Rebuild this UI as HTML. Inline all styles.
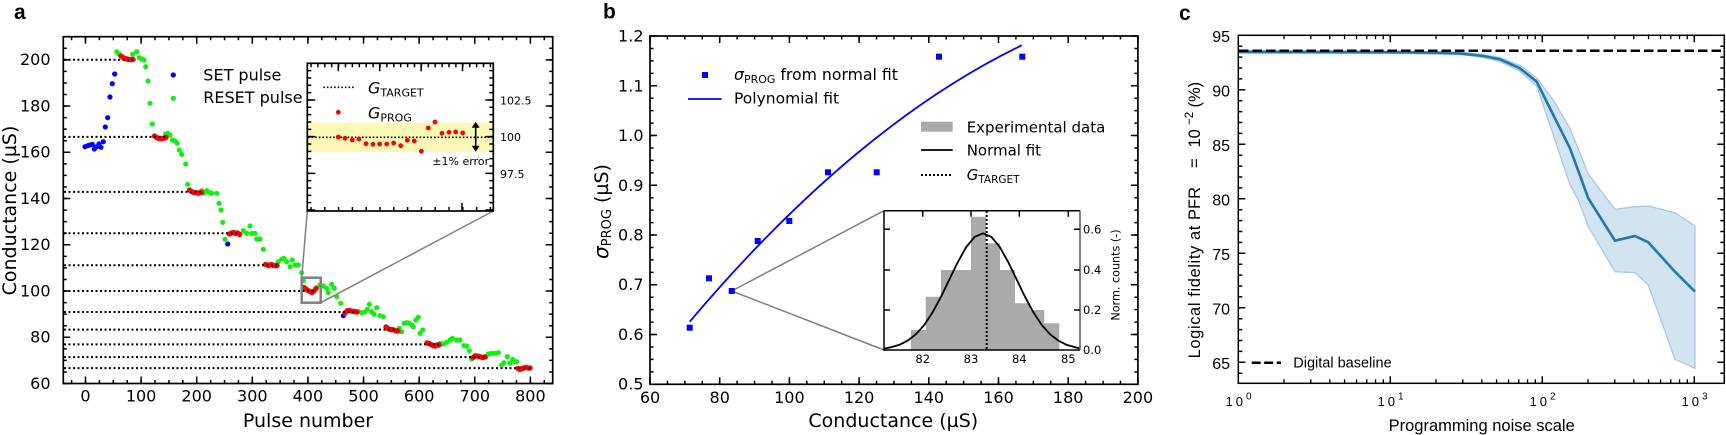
<!DOCTYPE html>
<html><head><meta charset="utf-8"><style>
html,body{margin:0;padding:0;background:#fff;}
svg{display:block;}
.dv{font-family:"DejaVu Sans","Liberation Sans",sans-serif;}
.ls{font-family:"Liberation Sans",sans-serif;}
</style></head><body>
<svg width="1726" height="435" viewBox="0 0 1726 435" xmlns="http://www.w3.org/2000/svg">
<rect width="1726" height="435" fill="#fff"/>

<!-- ================= PANEL A ================= -->
<text class="ls" x="14" y="19" font-size="21" font-weight="bold">a</text>

<!-- data points -->
<path fill="none" stroke="#10f010" stroke-width="5.2" stroke-linecap="round" d="M116.7 51.7h0M119 54h0M132.7 54.3h0M136.7 51.7h0M139.3 57.7h0M141.7 59h0M144 60h0M145.7 66.7h0M148 81h0M150 103.3h0M152.3 124h0M165.7 134h0M167.7 133.3h0M170 135h0M172.3 140h0M175 141h0M177.3 143.3h0M179.3 150h0M181.7 154.3h0M185.7 164h0M187.7 184.3h0M201.7 190.7h0M204 193h0M206.7 190.7h0M209 192.3h0M211.7 193.3h0M216.7 193.3h0M219 203.3h0M221 210h0M222.7 222.3h0M225 239.3h0M240 234.3h0M243.3 230.7h0M246.7 233.3h0M250 226h0M251.7 233.3h0M255 233.3h0M256.7 239h0M260 239h0M263.3 249.3h0M278.3 261.7h0M281.7 259.3h0M284 258.3h0M286.7 261.7h0M290 266.7h0M292.3 260h0M295 265h0M298.3 265h0M301.7 272.7h0M303.3 280.7h0M316.7 287.7h0M320 285h0M323.3 286h0M326.7 288.3h0M328.3 292.7h0M331.7 284.3h0M334.3 288.3h0M336.7 296.7h0M340.7 303.3h0M358.3 311.7h0M361.7 312.7h0M365 311.7h0M367.3 309.3h0M369.3 304.3h0M371.7 311.7h0M374 314.3h0M376.7 307.7h0M380 315.7h0M383.3 316.7h0M399.3 328.3h0M401.7 331.7h0M404 323.3h0M406.7 322.7h0M409.3 323.3h0M411.7 325h0M413.3 326.7h0M416 320h0M418.3 317.3h0M420 333.3h0M422.7 330h0M440 343.3h0M443.3 344h0M446.7 342.3h0M450 340h0M452.3 338.3h0M456.7 340h0M460 340h0M464 345.7h0M466.7 346h0M469.3 350.7h0M471.7 359h0M486 356.7h0M488.3 354h0M491.7 353.3h0M495 353.3h0M498.3 352.7h0M501.7 365h0M504 362.7h0M507.3 356.7h0M510 363.3h0M512.7 359.3h0M515 361.7h0M516.7 361.7h0"/>
<path fill="none" stroke="#0000ff" stroke-width="5.2" stroke-linecap="round" d="M85 146.7h0M87.7 145.7h0M90 145h0M92.3 144.3h0M94.3 149h0M96.7 146.7h0M99 144h0M101 147.3h0M103.3 141.7h0M105.3 127h0M107.7 117.7h0M110 97h0M112.3 83.7h0M114.7 74h0M227.7 244h0M343.3 315.7h0"/>
<path fill="none" stroke="#ff0000" stroke-width="5.4" stroke-linecap="round" d="M121 56h0M123 57.5h0M125 58.5h0M127 59h0M129 59.5h0M131 59.5h0M133 59.5h0M154.5 136h0M156.5 137.5h0M158.5 138.5h0M160.5 138.5h0M162.5 138.5h0M164.5 138h0M166 137.5h0M189.5 190h0M191.5 191.5h0M193.5 192.5h0M195.5 192.5h0M197.5 193h0M199.5 193h0M201.5 192.5h0M229.5 234h0M231.5 233h0M233.5 232.5h0M235.5 233.5h0M237.5 233h0M239.5 234.5h0M265.5 264.5h0M267.5 265h0M269.5 265.5h0M271.5 264.5h0M273.5 265.5h0M275.5 265.5h0M277 265.5h0M304 287.5h0M306 289h0M308 290.5h0M310 291.5h0M312 292.5h0M314 291h0M316 288.5h0M345 313h0M347 311h0M349 310.5h0M351 311h0M353 311.5h0M355 311.5h0M357 312h0M386 327h0M388 328.5h0M390 329.5h0M392 329.5h0M394 330h0M396 331h0M398 331h0M427 343h0M429 343.5h0M431 344.5h0M433 345.5h0M435 346h0M437 345h0M439 345h0M473 357.5h0M475 356h0M477 356h0M479 356.5h0M481 357h0M483 357.5h0M485 357h0M518 368.5h0M520 369.5h0M522 368.5h0M524 368h0M526 367.5h0M528 368h0M530 368h0"/>

<!-- target dotted lines -->
<g stroke="#000" stroke-width="2" stroke-dasharray="2 2.5" fill="none">
<line x1="64" y1="59.8" x2="133" y2="59.8"/>
<line x1="64" y1="136.9" x2="166" y2="136.9"/>
<line x1="64" y1="191.9" x2="202" y2="191.9"/>
<line x1="64" y1="233.2" x2="240" y2="233.2"/>
<line x1="64" y1="265.3" x2="277" y2="265.3"/>
<line x1="64" y1="291.0" x2="316" y2="291.0"/>
<line x1="64" y1="312.0" x2="357" y2="312.0"/>
<line x1="64" y1="329.6" x2="398" y2="329.6"/>
<line x1="64" y1="344.4" x2="439" y2="344.4"/>
<line x1="64" y1="357.1" x2="485" y2="357.1"/>
<line x1="64" y1="368.1" x2="530" y2="368.1"/>
</g>

<!-- zoom box and connectors -->
<rect x="301.7" y="277.7" width="19" height="25" fill="none" stroke="#808080" stroke-width="2.5"/>
<line x1="307.3" y1="211" x2="301.7" y2="277.7" stroke="#808080" stroke-width="1.5"/>
<line x1="493.3" y1="211" x2="320.7" y2="302.7" stroke="#808080" stroke-width="1.5"/>

<!-- axes a -->
<g stroke="#000" fill="none">
<rect x="63.3" y="36.7" width="489.4" height="346.8" stroke-width="1.7"/>
<line x1="70.85" y1="381.75" x2="553" y2="381.75" stroke-width="3.5" stroke-dasharray="1.5 12.4025"/>
<line x1="84.75" y1="380" x2="553" y2="380" stroke-width="7" stroke-dasharray="1.5 54.11"/>
<line x1="70.85" y1="38.45" x2="553" y2="38.45" stroke-width="3.5" stroke-dasharray="1.5 12.4025"/>
<line x1="84.75" y1="40.2" x2="553" y2="40.2" stroke-width="7" stroke-dasharray="1.5 54.11"/>
<line x1="65.05" y1="35.95" x2="65.05" y2="385" stroke-width="3.5" stroke-dasharray="1.5 10.06"/>
<line x1="66.8" y1="59.07" x2="66.8" y2="385" stroke-width="7" stroke-dasharray="1.5 44.74"/>
<line x1="550.95" y1="35.95" x2="550.95" y2="385" stroke-width="3.5" stroke-dasharray="1.5 10.06"/>
<line x1="549.2" y1="59.07" x2="549.2" y2="385" stroke-width="7" stroke-dasharray="1.5 44.74"/>
</g>
<g class="dv" font-size="16" fill="#000" text-anchor="end">
<text x="50.5" y="388.8">60</text>
<text x="50.5" y="342.6">80</text>
<text x="50.5" y="296.3">100</text>
<text x="50.5" y="250.1">120</text>
<text x="50.5" y="203.8">140</text>
<text x="50.5" y="157.6">160</text>
<text x="50.5" y="111.4">180</text>
<text x="50.5" y="65.1">200</text>
</g>
<g class="dv" font-size="16" fill="#000" text-anchor="middle">
<text x="85.5" y="401.7">0</text>
<text x="141.1" y="401.7">100</text>
<text x="196.7" y="401.7">200</text>
<text x="252.3" y="401.7">300</text>
<text x="307.9" y="401.7">400</text>
<text x="363.6" y="401.7">500</text>
<text x="419.2" y="401.7">600</text>
<text x="474.8" y="401.7">700</text>
<text x="530.4" y="401.7">800</text>
</g>
<text class="dv" x="308" y="427" font-size="19" text-anchor="middle">Pulse number</text>
<text class="dv" transform="translate(16,210.5) rotate(-90)" font-size="19" text-anchor="middle">Conductance (µS)</text>

<!-- legend a -->
<circle cx="173.3" cy="75" r="2.6" fill="#0000ff"/>
<text class="dv" x="203.3" y="80.5" font-size="16">SET pulse</text>
<circle cx="173.3" cy="98.3" r="2.6" fill="#10f010"/>
<text class="dv" x="203.3" y="103" font-size="16">RESET pulse</text>

<!-- inset a -->
<rect x="307.3" y="63.3" width="186" height="147.7" fill="#fff"/>
<rect x="307.3" y="122.6" width="186" height="29.4" fill="#fcf8b5"/>
<line x1="308" y1="137.3" x2="493" y2="137.3" stroke="#000" stroke-width="1.6" stroke-dasharray="1.6 2"/>
<path fill="none" stroke="#ff0000" stroke-width="4.8" stroke-linecap="round" d="M338.3 137h0M345 138.3h0M352.3 140h0M359 139h0M366 143.7h0M373 144.3h0M379.7 144h0M386.7 144h0M393.7 143h0M400.7 145.7h0M407.3 140.3h0M414.3 141h0M421.3 151.3h0M428.3 128h0M435 122h0M442 133.3h0M449 132.3h0M455.7 132h0M462.7 133h0M338.3 112.3h0"/>
<line x1="323.3" y1="87.3" x2="355" y2="87.3" stroke="#000" stroke-width="1.6" stroke-dasharray="1.6 2"/>
<text class="dv" x="368" y="93.5" font-size="16"><tspan font-style="italic">G</tspan><tspan font-size="11" dy="3">TARGET</tspan></text>
<text class="dv" x="368" y="118.5" font-size="16"><tspan font-style="italic">G</tspan><tspan font-size="11" dy="3">PROG</tspan></text>
<line x1="475.7" y1="126" x2="475.7" y2="147.5" stroke="#000" stroke-width="1.6"/>
<polygon points="475.7,121.7 471.7,127.7 479.7,127.7" fill="#000"/>
<polygon points="475.7,151.7 471.7,145.7 479.7,145.7" fill="#000"/>
<text class="dv" x="432.3" y="165" font-size="11">±1% error</text>
<g stroke="#000" fill="none">
<rect x="307.3" y="63.3" width="186" height="147.7" stroke-width="1.7"/>
<line x1="309.3" y1="62.55" x2="309.3" y2="212" stroke-width="4" stroke-dasharray="1.5 5.835"/>
<line x1="311.3" y1="62.55" x2="311.3" y2="212" stroke-width="8" stroke-dasharray="1.5 35.175"/>
<line x1="491.3" y1="62.55" x2="491.3" y2="212" stroke-width="4" stroke-dasharray="1.5 5.835"/>
<line x1="489.3" y1="62.55" x2="489.3" y2="212" stroke-width="8" stroke-dasharray="1.5 35.175"/>
<line x1="310.25" y1="65.3" x2="493" y2="65.3" stroke-width="4" stroke-dasharray="1.5 5.4"/>
<line x1="337.55" y1="67.3" x2="493" y2="67.3" stroke-width="8" stroke-dasharray="1.5 39.9"/>
<line x1="310.25" y1="209" x2="493" y2="209" stroke-width="4" stroke-dasharray="1.5 12.3"/>
<path d="M462 211v-8" stroke-width="1.5"/>
</g>
<g class="dv" font-size="11" fill="#000">
<text x="500" y="104.5">102.5</text>
<text x="500" y="141.2">100</text>
<text x="500" y="178">97.5</text>
</g>

<!-- ================= PANEL B ================= -->
<text class="ls" x="603" y="18.5" font-size="21" font-weight="bold">b</text>

<!-- connectors -->
<line x1="731.7" y1="291" x2="884" y2="210.7" stroke="#808080" stroke-width="1.5"/>
<line x1="731.7" y1="291" x2="884" y2="350" stroke="#808080" stroke-width="1.5"/>

<!-- polynomial fit -->
<path d="M689.7 321.7 Q855.8 125.4 1021.8 45.3" fill="none" stroke="#0000ff" stroke-width="1.8"/>
<!-- squares -->
<g fill="#0000ff">
<rect x="686.7" y="324.7" width="6" height="6"/>
<rect x="706" y="275.3" width="6" height="6"/>
<rect x="728.7" y="288" width="6" height="6"/>
<rect x="754.7" y="238" width="6" height="6"/>
<rect x="786.3" y="218" width="6" height="6"/>
<rect x="825" y="169.3" width="6" height="6"/>
<rect x="873.7" y="169.3" width="6" height="6"/>
<rect x="936" y="53.7" width="6" height="6"/>
<rect x="1019.3" y="53.7" width="6" height="6"/>
</g>

<!-- axes b -->
<g stroke="#000" fill="none">
<rect x="650" y="36" width="487.9" height="348.3" stroke-width="1.7"/>
<line x1="649.25" y1="382.55" x2="1139" y2="382.55" stroke-width="3.5" stroke-dasharray="1.5 15.925"/>
<line x1="649.25" y1="380.8" x2="1139" y2="380.8" stroke-width="7" stroke-dasharray="1.5 68.2"/>
<line x1="649.25" y1="37.75" x2="1139" y2="37.75" stroke-width="3.5" stroke-dasharray="1.5 15.925"/>
<line x1="649.25" y1="39.5" x2="1139" y2="39.5" stroke-width="7" stroke-dasharray="1.5 68.2"/>
<line x1="651.75" y1="35.25" x2="651.75" y2="385.5" stroke-width="3.5" stroke-dasharray="1.5 10.939"/>
<line x1="653.5" y1="35.25" x2="653.5" y2="385.5" stroke-width="7" stroke-dasharray="1.5 48.257"/>
<line x1="1136.15" y1="35.25" x2="1136.15" y2="385.5" stroke-width="3.5" stroke-dasharray="1.5 10.939"/>
<line x1="1134.4" y1="35.25" x2="1134.4" y2="385.5" stroke-width="7" stroke-dasharray="1.5 48.257"/>
</g>
<g class="dv" font-size="16" fill="#000" text-anchor="end">
<text x="643.5" y="389.6">0.5</text>
<text x="643.5" y="339.9">0.6</text>
<text x="643.5" y="290.2">0.7</text>
<text x="643.5" y="240.5">0.8</text>
<text x="643.5" y="190.8">0.9</text>
<text x="643.5" y="141.1">1.0</text>
<text x="643.5" y="91.4">1.1</text>
<text x="643.5" y="41.7">1.2</text>
</g>
<g class="dv" font-size="16" fill="#000" text-anchor="middle">
<text x="650" y="403">60</text>
<text x="719.7" y="403">80</text>
<text x="789.4" y="403">100</text>
<text x="859.1" y="403">120</text>
<text x="928.8" y="403">140</text>
<text x="998.5" y="403">160</text>
<text x="1068.2" y="403">180</text>
<text x="1137.9" y="403">200</text>
</g>
<text class="dv" x="893.3" y="427" font-size="19" text-anchor="middle">Conductance (µS)</text>
<text class="dv" transform="translate(608,211.5) rotate(-90)" font-size="19" text-anchor="middle"><tspan font-style="italic" font-size="20">σ</tspan><tspan font-size="13" dy="3">PROG</tspan><tspan dy="-3"> (µS)</tspan></text>

<!-- legend b -->
<rect x="702" y="72" width="6" height="6" fill="#0000ff"/>
<text class="dv" x="734" y="80" font-size="15.7"><tspan font-style="italic">σ</tspan><tspan font-size="11" dy="3">PROG</tspan><tspan dy="-3"> from normal fit</tspan></text>
<line x1="688" y1="99" x2="721.7" y2="99" stroke="#0000ff" stroke-width="1.8"/>
<text class="dv" x="734" y="103.3" font-size="15.5">Polynomial fit</text>
<rect x="921" y="121.7" width="31.7" height="10" fill="#aaaaaa"/>
<text class="dv" x="966.7" y="132.3" font-size="15">Experimental data</text>
<line x1="921" y1="150" x2="952.7" y2="150" stroke="#000" stroke-width="1.8"/>
<text class="dv" x="966.7" y="155.7" font-size="15">Normal fit</text>
<line x1="921" y1="175" x2="952.7" y2="175" stroke="#000" stroke-width="2" stroke-dasharray="2 2"/>
<text class="dv" x="966.7" y="180" font-size="15"><tspan font-style="italic">G</tspan><tspan font-size="10.5" dy="3">TARGET</tspan></text>

<!-- inset b -->
<rect x="884" y="210.7" width="196" height="139.3" fill="#fff"/>
<path fill="#aaaaaa" d="M911 350V330H925.7V296.7H941V270H971V216.7H986V243.3H1000V270H1015V303.3H1030V310H1044.3V323.3H1059.3V350Z"/>
<path fill="none" stroke="#000" stroke-width="1.8" stroke-linejoin="round" d="M884 348.6L890.9 347.3L899.25 344.9L907.6 340.7L916 334.2L924.4 324.8L932.75 312.1L941.1 296.6L949.5 279.2L957.9 261.9L966.25 247L974.6 236.9L983 233.3L991.4 236.9L999.75 247L1008.1 261.9L1016.5 279.2L1024.9 296.6L1033.25 312.1L1041.6 324.8L1050 334.2L1058.4 340.7L1066.75 344.9L1075.1 347.3L1080 348.4"/>
<line x1="986.7" y1="211" x2="986.7" y2="350" stroke="#000" stroke-width="2" stroke-dasharray="2 2"/>
<g stroke="#000" fill="none" stroke-width="1.5">
<path d="M884 210.7V350H1080M884 210.7H1080"/>
<path d="M1080 210.7V350" stroke="#555"/>
<path d="M884 229.3h6M884 270h6M884 310h6M1080 229.3h-6M1080 270h-6M1080 310h-6M922.7 210.7v6M971 210.7v6M1019.3 210.7v6M1068.3 210.7v6"/>
</g>
<g class="dv" font-size="11.5" fill="#000" text-anchor="middle">
<text x="922.7" y="363">82</text>
<text x="971" y="363">83</text>
<text x="1019.3" y="363">84</text>
<text x="1068.3" y="363">85</text>
</g>
<g class="dv" font-size="11.5" fill="#000">
<text x="1083" y="233.5">0.6</text>
<text x="1083" y="274">0.4</text>
<text x="1083" y="314">0.2</text>
<text x="1083" y="354">0.0</text>
</g>
<text class="dv" transform="translate(1119.5,275) rotate(-90)" font-size="11.2" text-anchor="middle">Norm. counts (-)</text>

<!-- ================= PANEL C ================= -->
<text class="ls" x="1179" y="20" font-size="21" font-weight="bold">c</text>

<path fill="#d2e4f0" stroke="#a9c9e2" stroke-width="1.3" d="M1238.3 50.5L1400 51L1460 52L1483.3 54.5L1500 57.5L1520 65.5L1536.7 78L1553.3 100L1570 128.3L1588.3 174L1615 209.3L1635 206.7L1648.3 206L1675 212.7L1695 226L1695 368.3L1675 359.3L1648.3 285L1635 272.7L1615 271.7L1588.3 226.7L1578.3 200L1570 185L1553.3 135L1536.7 86L1520 71L1500 61.5L1483.3 57.5L1460 54.5L1400 53.5L1238.3 53.2Z"/>
<path fill="none" stroke="#1f77b4" stroke-width="2.6" stroke-linejoin="round" d="M1238.3 51.8L1400 52.3L1440 52.8L1460 53.5L1483.3 56L1500 59.3L1520 68.3L1536.7 81.7L1553.3 115L1570 148.3L1588.3 198.3L1615 240.7L1635 236L1648.3 242.3L1675 271.7L1695 291.7"/>
<line x1="1239" y1="50.8" x2="1724" y2="50.8" stroke="#000" stroke-width="2.5" stroke-dasharray="9.5 4"/>

<g stroke="#000" fill="none">
<rect x="1238.3" y="35.3" width="486" height="348" stroke-width="1.5"/>
<line x1="1240.3" y1="34.55" x2="1240.3" y2="384" stroke-width="4" stroke-dasharray="1.5 9.4"/>
<line x1="1241.8" y1="34.55" x2="1241.8" y2="384" stroke-width="7" stroke-dasharray="1.5 53"/>
<line x1="1722.3" y1="34.55" x2="1722.3" y2="384" stroke-width="4" stroke-dasharray="1.5 9.4"/>
<line x1="1720.8" y1="34.55" x2="1720.8" y2="384" stroke-width="7" stroke-dasharray="1.5 53"/>
<path stroke-width="1.5" d="M1390.3 383.3v-7M1542.3 383.3v-7M1694.3 383.3v-7M1390.3 35.3v7M1542.3 35.3v7M1694.3 35.3v7"/>
<path stroke-width="1.3" d="M1284.05 383.3v-4M1310.8 383.3v-4M1329.8 383.3v-4M1344.55 383.3v-4M1356.55 383.3v-4M1366.75 383.3v-4M1375.55 383.3v-4M1383.3 383.3v-4M1436.05 383.3v-4M1462.8 383.3v-4M1481.8 383.3v-4M1496.55 383.3v-4M1508.55 383.3v-4M1518.75 383.3v-4M1527.55 383.3v-4M1535.3 383.3v-4M1588.05 383.3v-4M1614.8 383.3v-4M1633.8 383.3v-4M1648.55 383.3v-4M1660.55 383.3v-4M1670.75 383.3v-4M1679.55 383.3v-4M1687.3 383.3v-4M1284.05 35.3v4M1310.8 35.3v4M1329.8 35.3v4M1344.55 35.3v4M1356.55 35.3v4M1366.75 35.3v4M1375.55 35.3v4M1383.3 35.3v4M1436.05 35.3v4M1462.8 35.3v4M1481.8 35.3v4M1496.55 35.3v4M1508.55 35.3v4M1518.75 35.3v4M1527.55 35.3v4M1535.3 35.3v4M1588.05 35.3v4M1614.8 35.3v4M1633.8 35.3v4M1648.55 35.3v4M1660.55 35.3v4M1670.75 35.3v4M1679.55 35.3v4M1687.3 35.3v4"/>
</g>
<g class="ls" font-size="16" fill="#000" text-anchor="end">
<text x="1230" y="42">95</text>
<text x="1230" y="96.5">90</text>
<text x="1230" y="151">85</text>
<text x="1230" y="205.5">80</text>
<text x="1230" y="260">75</text>
<text x="1230" y="314.5">70</text>
<text x="1230" y="369">65</text>
</g>
<g class="ls" font-size="13" fill="#000" text-anchor="middle" letter-spacing="3">
<text x="1240" y="406">10<tspan font-size="10" dy="-6.5">0</tspan></text>
<text x="1392" y="406">10<tspan font-size="10" dy="-6.5">1</tspan></text>
<text x="1544" y="406">10<tspan font-size="10" dy="-6.5">2</tspan></text>
<text x="1696" y="406">10<tspan font-size="10" dy="-6.5">3</tspan></text>
</g>
<text class="ls" x="1481.7" y="431" font-size="16.5" text-anchor="middle">Programming noise scale</text>
<g class="ls" transform="translate(1200,220) rotate(-90)" font-size="16.5" fill="#000">
<text x="-5" y="0" text-anchor="end" letter-spacing="0.6">Logical fidelity at</text>
<text x="0" y="0">PFR</text>
<text x="52" y="0">=</text>
<text x="72.5" y="0">10</text>
<text x="95" y="-7" font-size="11.5">−2</text>
<text x="112.5" y="0">(%)</text>
</g>

<!-- legend c -->
<line x1="1251.7" y1="362.7" x2="1281" y2="362.7" stroke="#000" stroke-width="2.5" stroke-dasharray="9 3.5"/>
<text class="ls" x="1293.3" y="367.5" font-size="14.5">Digital baseline</text>

</svg>
</body></html>
